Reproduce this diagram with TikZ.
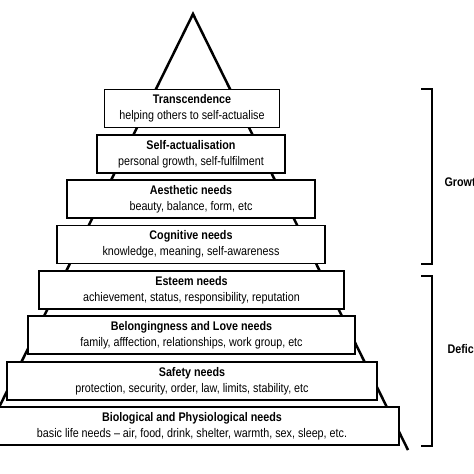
\documentclass[tikz,border=0pt]{standalone}
\usepackage{fontspec}
\setmainfont[FakeStretch=0.86]{Liberation Sans}

\tikzset{
  level/.style={draw, line width=1.6pt, fill=white, inner sep=0pt,
                minimum height=38pt, align=center, font=\fontsize{12.5}{16}\selectfont},
  side/.style={line width=2.5pt},
  brace/.style={line width=1.5pt},
  group/.style={anchor=west, font=\fontsize{12.5}{15}\selectfont\bfseries}
}

\begin{document}
\begin{tikzpicture}[x=1pt, y=-1pt]
            \useasboundingbox (0,0) rectangle (474,474);
            \clip (0,0) rectangle (474,474);

            % draw pyramid sides
            \coordinate (apex) at (193,14);
            \coordinate (baseL) at (-22,450);
            \coordinate (baseR) at (408,450);
            \draw[side, line join=miter] (baseL) -- (apex) -- (baseR);

            % draw levels from top to bottom
            \node[level, minimum width=175pt] (trans) at (192,108.5)
                {\textbf{Transcendence}\\helping others to self-actualise};
            \node[level, minimum width=188pt] (selfact) at (191,154)
                {\textbf{Self-actualisation}\\personal growth, self-fulfilment};
            \node[level, minimum width=248pt] (aesth) at (191,199)
                {\textbf{Aesthetic needs}\\beauty, balance, form, etc};
            \node[level, minimum width=268pt] (cogn) at (191,244.5)
                {\textbf{Cognitive needs}\\knowledge, meaning, self-awareness};
            \node[level, minimum width=305pt] (esteem) at (191.5,290)
                {\textbf{Esteem needs}\\achievement, status, responsibility, reputation};
            \node[level, minimum width=327pt] (belong) at (191.5,335)
                {\textbf{Belongingness and Love needs}\\family, afffection, relationships, work group, etc};
            \node[level, minimum width=370pt] (safety) at (192,381)
                {\textbf{Safety needs}\\protection, security, order, law, limits, stability, etc};
            \node[level, minimum width=414pt] (bio) at (192,426)
                {\textbf{Biological and Physiological needs}\\basic life needs -- air, food, drink, shelter, warmth, sex, sleep, etc.};

            % draw brackets
            \draw[brace] (421,89) -- (432,89) -- (432,264) -- (421,264);
            \draw[brace] (421,276) -- (432,276) -- (432,446) -- (421,446);
            \node[group] (growth) at (441,182) {Growth needs};
            \node[group] (defic) at (444,350) {Deficiency needs};
        \end{tikzpicture}
\end{document}
